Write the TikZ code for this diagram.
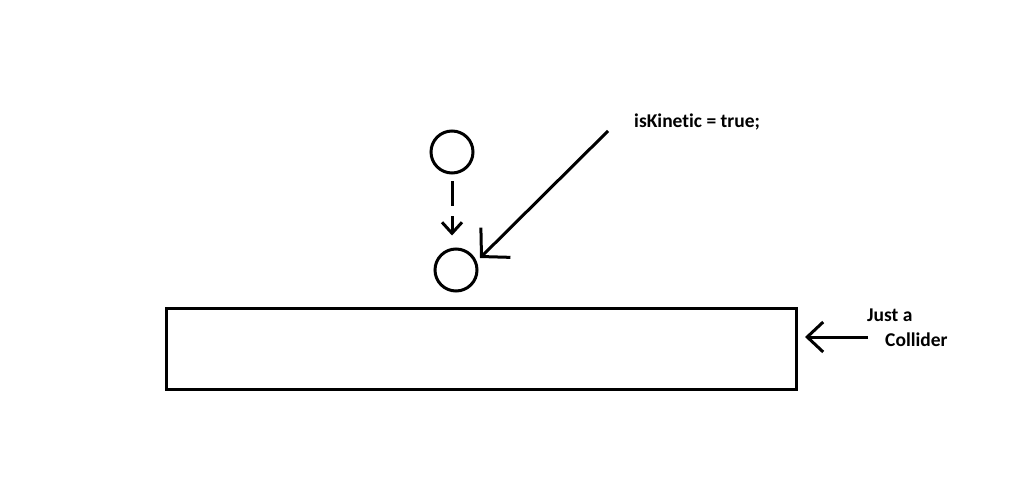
\documentclass[tikz,border=0pt]{standalone}
\usepackage{fontspec}
\setmainfont[Ligatures=NoCommon]{Carlito}
\usetikzlibrary{arrows.meta}
\begin{document}
\begin{tikzpicture}[x=1pt,y=-1pt,
  ln/.style={line width=3pt,black},
  ball/.style={ln,draw,circle,minimum size=42pt,inner sep=0pt},
  lbl/.style={font=\fontsize{19.5}{23}\selectfont\bfseries,anchor=west,inner sep=0pt}]
\useasboundingbox[fill=white] (0,0) rectangle (1024,486);
\node[ball] (c1) at (452,152) {};
\node[ball] (c2) at (456,270) {};
\node[ln,draw,rectangle,minimum width=630pt,minimum height=81pt,inner sep=0pt] (box) at (481,348.5) {};
\node[lbl] (kin) at (634,122) {isKinetic = true;};
\node[lbl] (just) at (867,315) {Just a};
\node[lbl] (col) at (885,340) {Collider};
\coordinate (dstart) at (608,131);
\coordinate (dtip) at (480,258);
\coordinate (cstart) at (868,337);
\coordinate (ctip) at (805,337);
\draw[ln,dash pattern=on 25pt off 10pt,shorten <=7pt,shorten >=12pt,-{Straight Barb[length=11pt,width=20pt]}] (c1.south) -- (c1.south |- c2.north);
\draw[ln,-{Straight Barb[length=20pt,width=42pt]}] (dstart) -- (dtip);
\draw[ln,-{Straight Barb[length=16pt,width=30pt]}] (cstart) -- (ctip);
\end{tikzpicture}
\end{document}
